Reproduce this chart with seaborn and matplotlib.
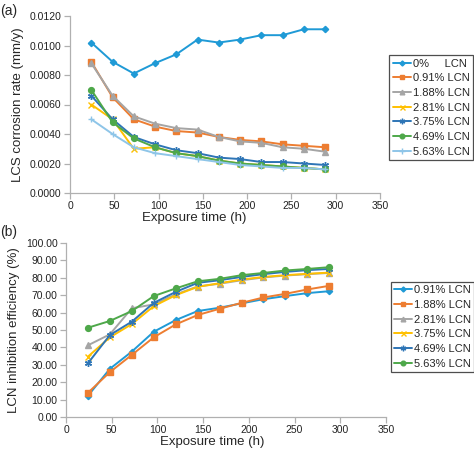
import numpy as np
import pandas as pd
import matplotlib
matplotlib.use("Agg")
import matplotlib.pyplot as plt
import seaborn as sns

# ---------------- data ----------------
hours = [24, 48, 72, 96, 120, 144, 168, 192, 216, 240, 264, 288]

# (a) corrosion rate (mm/y)
cr_labels = ["0%     LCN", "0.91% LCN", "1.88% LCN", "2.81% LCN", "3.75% LCN", "4.69% LCN", "5.63% LCN"]
cr_0 = [0.0102, 0.0089, 0.0081, 0.0088, 0.0094, 0.0104, 0.0102, 0.0104, 0.0107, 0.0107, 0.0111, 0.0111]
cr_091 = [0.0089, 0.0065, 0.0050, 0.0045, 0.0042, 0.0041, 0.0038, 0.0036, 0.0035, 0.0033, 0.0032, 0.0031]
cr_188 = [0.0088, 0.0066, 0.0052, 0.0047, 0.0044, 0.0043, 0.0038, 0.0035, 0.0034, 0.0031, 0.0030, 0.0028]
cr_281 = [0.0060, 0.0050, 0.0030, 0.0031, 0.0027, 0.0025, 0.0022, 0.0020, 0.0019, 0.0018, 0.0017, 0.0016]
cr_375 = [0.0066, 0.0050, 0.0038, 0.0033, 0.0029, 0.0027, 0.0024, 0.0023, 0.0021, 0.0021, 0.0020, 0.0019]
cr_469 = [0.0070, 0.0048, 0.0037, 0.0031, 0.0027, 0.0025, 0.0022, 0.0020, 0.0019, 0.0018, 0.0017, 0.0016]
cr_563 = [0.0050, 0.0040, 0.0031, 0.0027, 0.0025, 0.0023, 0.0021, 0.0019, 0.0018, 0.0017, 0.0017, 0.0016]

# (b) inhibition efficiency (%)
ie_labels = ["0.91% LCN", "1.88% LCN", "2.81% LCN", "3.75% LCN", "4.69% LCN", "5.63% LCN"]
ie_091 = [12.2, 27.7, 37.6, 49.0, 55.7, 60.9, 62.8, 65.3, 67.7, 69.5, 71.2, 72.3]
ie_188 = [13.9, 25.8, 35.7, 45.8, 53.2, 58.6, 62.2, 65.6, 68.7, 70.8, 73.3, 75.4]
ie_281 = [41.2, 47.5, 62.5, 64.7, 70.5, 75.0, 76.6, 78.6, 80.2, 81.3, 82.1, 82.8]
ie_375 = [34.7, 45.8, 53.4, 63.7, 70.0, 74.8, 76.9, 79.0, 80.5, 81.5, 82.3, 83.0]
ie_469 = [30.9, 47.1, 54.8, 65.6, 71.9, 77.1, 78.6, 80.5, 82.1, 83.4, 84.4, 85.1]
ie_563 = [51.3, 55.2, 60.9, 69.5, 73.9, 78.0, 79.4, 81.5, 82.8, 84.2, 85.1, 86.1]

# ---------------- styling ----------------
colors = ["#1f9ad6", "#ed7d31", "#a5a5a5", "#ffc000", "#2e75b6", "#4ea84a", "#8ec5e8"]
mk = ["D", "s", "^", "x", (6, 2, 0), "o", "+"]
msz = [3.2, 4.2, 4.2, 4.5, 5, 4.2, 5]

sns.set_theme(style="white")
plt.rcParams["font.family"] = ["Liberation Sans", "DejaVu Sans"]

fig = plt.figure(figsize=(4.74, 4.53), dpi=100)
ax1 = fig.add_axes([70 / 474, 1 - 193 / 453, 310 / 474, 177 / 453])
ax2 = fig.add_axes([66 / 474, 1 - 417 / 453, 320 / 474, 174 / 453])

def long_df(series, labels):
    rows = []
    for lab, vals in zip(labels, series):
        for h, v in zip(hours, vals):
            rows.append({"h": h, "v": v, "s": lab})
    return pd.DataFrame(rows)

df1 = long_df([cr_0, cr_091, cr_188, cr_281, cr_375, cr_469, cr_563], cr_labels)
df2 = long_df([ie_091, ie_188, ie_281, ie_375, ie_469, ie_563], ie_labels)

def draw(ax, df, labels, cols, marks, sizes):
    for lab, c, m, s in zip(labels, cols, marks, sizes):
        sub = df[df["s"] == lab]
        sns.lineplot(data=sub, x="h", y="v", ax=ax, color=c, marker=m,
                     markersize=s, markeredgecolor=c, markeredgewidth=1.0,
                     linewidth=1.4, label=lab, legend=False)

draw(ax1, df1, cr_labels, colors, mk, msz)
draw(ax2, df2, ie_labels, colors[:6], mk[:6], msz[:6])

spine_c = "#b0b0b0"
for ax in (ax1, ax2):
    ax.set_xlim(0, 350)
    ax.set_xticks(range(0, 351, 50))
    for sp in ("top", "right"):
        ax.spines[sp].set_visible(False)
    for sp in ("left", "bottom"):
        ax.spines[sp].set_color(spine_c)
        ax.spines[sp].set_linewidth(0.9)
    ax.tick_params(axis="both", which="both", direction="out", length=4,
                   width=0.9, color=spine_c, labelsize=7.5, pad=2,
                   left=True, bottom=True, labelcolor="#222222")
    ax.set_xlabel("Exposure time (h)", fontsize=9.5, labelpad=1)

ax1.set_ylim(0, 0.012)
ax1.set_yticks(np.arange(0, 0.01201, 0.002))
ax1.set_yticklabels([f"{v:.4f}" for v in np.arange(0, 0.01201, 0.002)])
ax1.set_ylabel("LCS corrosion rate (mm/y)", fontsize=9.5, labelpad=4)
ax1.xaxis.set_label_coords(0.40, -0.105)

ax2.set_ylim(0, 100)
ax2.set_yticks(range(0, 101, 10))
ax2.set_yticklabels([f"{v:.2f}" for v in range(0, 101, 10)])
ax2.set_ylabel("LCN inhibition efficiency (%)", fontsize=9.5, labelpad=4)
ax2.xaxis.set_label_coords(0.456, -0.11)

for ax, loc in ((ax1, (0.8215, 0.647)), (ax2, (0.824, 0.179))):
    leg = fig.legend(handles=ax.get_lines(), loc="lower left", bbox_to_anchor=loc,
                     frameon=True, fontsize=8, handlelength=1.6, handletextpad=0.2,
                     labelspacing=0.42, borderpad=0.3, borderaxespad=0,
                     fancybox=False, edgecolor="#222222", markerscale=0.8)
    leg.get_frame().set_linewidth(0.9)

fig.text(0.0, 1 - 11 / 453, "(a)", fontsize=10, va="center", ha="left")
fig.text(0.0, 1 - 232 / 453, "(b)", fontsize=10, va="center", ha="left")

fig.savefig("out.png", dpi=100)
